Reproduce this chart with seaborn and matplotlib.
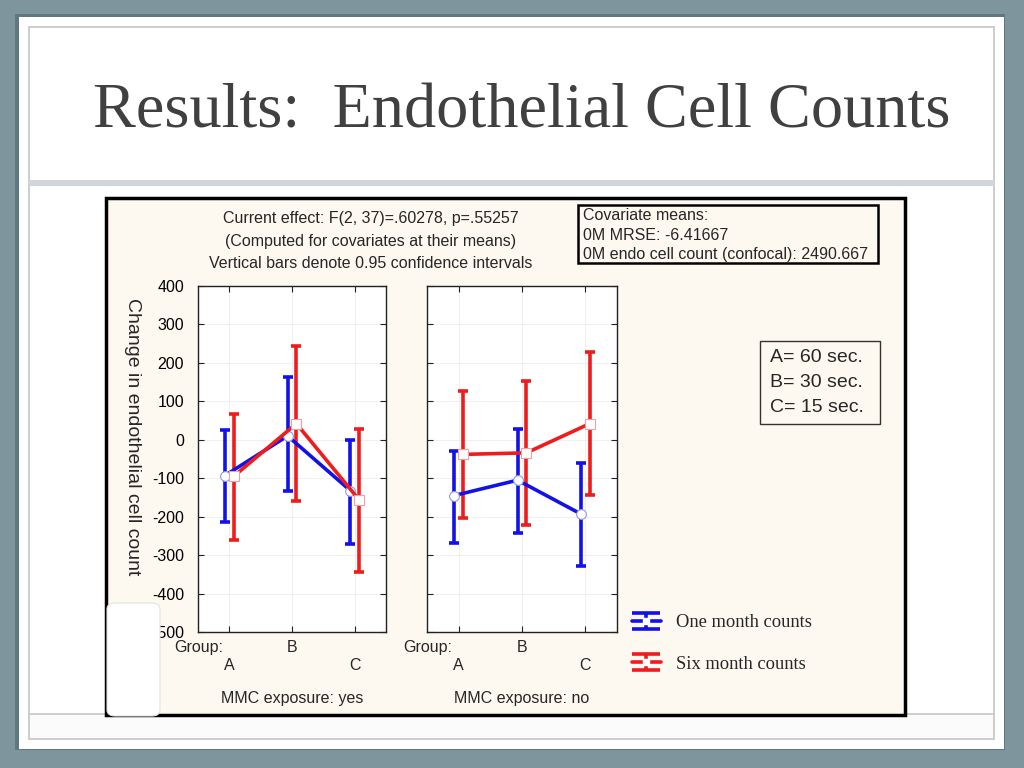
import numpy as np
import pandas as pd
import matplotlib
matplotlib.use("Agg")
import matplotlib.pyplot as plt
import seaborn as sns
from matplotlib.patches import Rectangle, FancyBboxPatch
from matplotlib.lines import Line2D
from matplotlib.path import Path
from matplotlib.legend_handler import HandlerTuple

# values (means and 0.95 CI ends)
groups = ["A", "B", "C"]
panels = ["yes", "no"]
series = ["One month counts", "Six month counts"]

one_mean_yes = [-93, 10, -132]
one_lo_yes = [-214, -132, -270]
one_hi_yes = [26, 162, 0]
six_mean_yes = [-95, 42, -156]
six_lo_yes = [-261, -160, -343]
six_hi_yes = [67, 244, 29]

one_mean_no = [-145, -105, -193]
one_lo_no = [-268, -242, -329]
one_hi_no = [-28, 29, -60]
six_mean_no = [-38, -34, 42]
six_lo_no = [-203, -221, -144]
six_hi_no = [127, 152, 228]

yticks = [400, 300, 200, 100, 0, -100, -200, -300, -400, -500]

header_lines = ["Current effect: F(2, 37)=.60278, p=.55257",
                "(Computed for covariates at their means)",
                "Vertical bars denote 0.95 confidence intervals"]
covariate_lines = ["Covariate means:",
                   "0M MRSE: -6.41667",
                   "0M endo cell count (confocal): 2490.667"]
key_lines = ["A= 60 sec.", "B= 30 sec.", "C= 15 sec."]

rows = []
tables = {
    ("yes", series[0]): (one_mean_yes, one_lo_yes, one_hi_yes),
    ("yes", series[1]): (six_mean_yes, six_lo_yes, six_hi_yes),
    ("no", series[0]): (one_mean_no, one_lo_no, one_hi_no),
    ("no", series[1]): (six_mean_no, six_lo_no, six_hi_no),
}
for (panel, s), (m, lo, hi) in tables.items():
    for i, g in enumerate(groups):
        rows.append({"panel": panel, "series": s, "group": g, "gi": i,
                     "mean": m[i], "lo": lo[i], "hi": hi[i]})
df = pd.DataFrame(rows)

colors = {series[0]: "#1212e8", series[1]: "#ee1c1c"}
edges = {series[0]: "#8f9bd8", series[1]: "#f0a0a0"}
markers = {series[0]: "o", series[1]: "s"}
shift = {series[0]: -0.07, series[1]: 0.07}

sns.set_style("ticks")
plt.rcParams["font.family"] = ["Liberation Sans", "DejaVu Sans"]
plt.rcParams["axes.unicode_minus"] = False

SMALL = 11.5

W, H = 1024, 768
fig = plt.figure(figsize=(W / 100, H / 100), dpi=100)
fig.patch.set_facecolor("#7f959e")


def fx(x):
    return x / W


def fy(y):
    return 1 - y / H


def box(x0, y0, x1, y1, **kw):
    r = Rectangle((fx(x0), fy(y1)), fx(x1) - fx(x0), fy(y0) - fy(y1),
                  transform=fig.transFigure, **kw)
    fig.add_artist(r)
    return r


# slide background
box(15, 14, 1005, 750, facecolor="#5f7780", edgecolor="none", zorder=-10)
box(19, 17, 1004, 749, facecolor="white", edgecolor="none", zorder=-9)
box(29, 714, 994, 739, facecolor="#fbfbfb", edgecolor="none", zorder=-8)
box(29, 27, 994, 739, facecolor="none", edgecolor="#c9c9c9", lw=1.3, zorder=-8)
box(29, 180, 994, 186, facecolor="#d2d6d9", edgecolor="none", zorder=-8)
fig.add_artist(Line2D([fx(29), fx(994)], [fy(714), fy(714)], color="#c9c9c9",
                      lw=1.3, transform=fig.transFigure, zorder=-8))

fig.text(fx(93), fy(127), "Results:  Endothelial Cell Counts", fontsize=46.3,
         family="Liberation Serif", color="#404040", va="baseline")

# chart frame
box(106, 198, 905, 715, facecolor="#fdf9f0", edgecolor="black", lw=2.5, zorder=-7)

ax1 = fig.add_axes([fx(198), fy(632), fx(386) - fx(198), fy(286) - fy(632)])
ax2 = fig.add_axes([fx(427), fy(632), fx(617) - fx(427), fy(286) - fy(632)])

for ax, panel in zip([ax1, ax2], panels):
    ax.set_facecolor("white")
    sub = df[df["panel"] == panel]
    for s in series:
        d = sub[sub["series"] == s]
        xs = d["gi"].values + shift[s]
        ax.errorbar(xs, d["mean"], yerr=[d["mean"] - d["lo"], d["hi"] - d["mean"]],
                    fmt="none", ecolor=colors[s], elinewidth=2.6, capsize=3.5,
                    capthick=2.6, zorder=2)
        sns.lineplot(x=xs, y=d["mean"].values, color=colors[s], lw=2.6,
                     marker=markers[s], markersize=7, markerfacecolor="white",
                     markeredgecolor=edges[s], markeredgewidth=0.8,
                     sort=False, ax=ax, zorder=3)
    ax.set_xlim(-0.5, 2.5)
    ax.set_ylim(-500, 400)
    ax.set_xticks(range(len(groups)))
    ax.set_xticklabels([])
    ax.set_yticks(yticks)
    ax.grid(True, color="#eeeeee", lw=0.6)
    ax.set_axisbelow(True)
    ax.tick_params(direction="in", length=4, width=0.8, top=True, right=True,
                   labelsize=SMALL, colors="#222222", pad=10)
    ax.tick_params(axis="y", labelcolor="black")
    for sp in ax.spines.values():
        sp.set_visible(True)
        sp.set_color("#222222")
        sp.set_linewidth(1.0)
    ax.set_xlabel("")
    ax.set_ylabel("")
    tr = ax.get_xaxis_transform()
    ax.text(-0.1, -0.046, "Group:", transform=tr, ha="right", va="center", fontsize=SMALL)
    for i, g in enumerate(groups):
        yy = -0.046 if i % 2 else -0.098
        ax.text(i, yy, g, transform=tr, ha="center", va="center", fontsize=SMALL)
    ax.text(1, -0.191, f"MMC exposure: {panel}", transform=tr, ha="center",
            va="center", fontsize=SMALL)

ax2.set_yticklabels([])

fig.text(fx(132), fy(437), "Change in endothelial cell count", rotation=-90,
         ha="center", va="center", fontsize=14)

for i, line in enumerate(header_lines):
    fig.text(fx(371), fy(219 + 22.5 * i), line, ha="center", va="center", fontsize=SMALL)

box(578, 205, 878, 263, facecolor="none", edgecolor="black", lw=1.8, zorder=2)
for i, line in enumerate(covariate_lines):
    fig.text(fx(583), fy(216 + 19 * i), line, ha="left", va="center", fontsize=SMALL)

box(760, 341, 880, 424, facecolor="none", edgecolor="#333333", lw=1.0, zorder=2)
for i, line in enumerate(key_lines):
    fig.text(fx(770), fy(358 + 24.5 * i), line, ha="left", va="center", fontsize=14)

# legend icons: caps + line with white marker
cap_path = Path([(-1, 0.6), (1, 0.6), (-1, -0.6), (1, -0.6), (0, 0.6), (0, -0.6)],
                [Path.MOVETO, Path.LINETO, Path.MOVETO, Path.LINETO,
                 Path.MOVETO, Path.LINETO])
handles = []
for s in series:
    caps = Line2D([], [], ls="none", marker=cap_path, markersize=20,
                  markerfacecolor="none", markeredgecolor=colors[s], markeredgewidth=2.6)
    mid = Line2D([], [], color=colors[s], lw=2.6, marker="s", markersize=5,
                 markerfacecolor="white", markeredgecolor="white")
    handles.append((caps, mid))
fig.legend(handles, series, handler_map={tuple: HandlerTuple(ndivide=1)},
           loc="upper left", bbox_to_anchor=(fx(632), fy(614)), frameon=False,
           prop={"family": "Liberation Serif", "size": 13.3}, handlelength=1.55,
           handletextpad=0.85, labelspacing=1.35, borderpad=0, borderaxespad=0)

# white slide element overlapping the chart corner
corner = FancyBboxPatch((fx(107), fy(716)), fx(160) - fx(107), fy(603) - fy(716),
                        boxstyle="round,pad=0,rounding_size=0.008",
                        transform=fig.transFigure, facecolor="white",
                        edgecolor="#e2e2e2", lw=0.8, zorder=5)
fig.add_artist(corner)

fig.savefig("out.png", dpi=100, facecolor=fig.get_facecolor())
